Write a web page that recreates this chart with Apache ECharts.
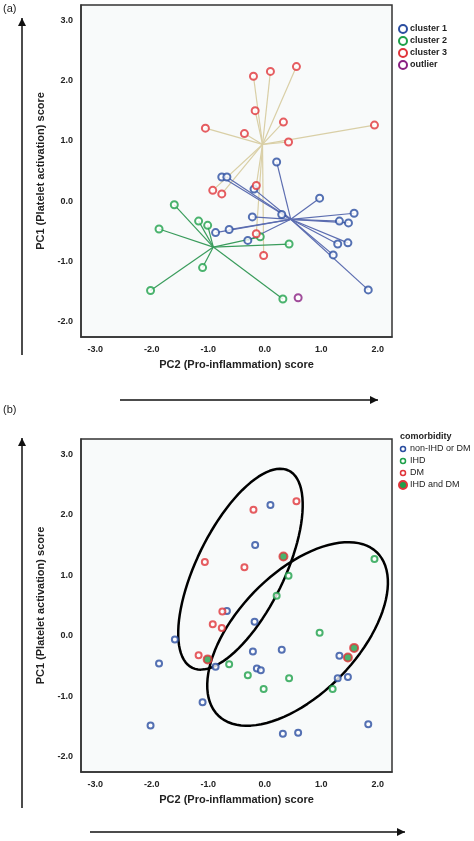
<!DOCTYPE html>
<html><head><meta charset="utf-8">
<script src="https://cdn.jsdelivr.net/npm/echarts@6/dist/echarts.min.js"></script>
<style>html,body{margin:0;background:#fff}#main{width:474px;height:841px}</style>
</head><body><div id="main"></div>
<script>
// (a) cluster points [PC2, PC1]
var cluster1 = [[0.21,0.65],[-0.76,0.40],[-0.67,0.40],[-0.19,0.20],[0.97,0.05],[0.30,-0.22],[-0.22,-0.26],[1.58,-0.20],[1.32,-0.33],[1.48,-0.36],[-0.63,-0.47],[-0.87,-0.52],[-0.30,-0.65],[1.29,-0.71],[1.47,-0.69],[1.21,-0.89],[1.83,-1.47]];
var cluster2 = [[-1.60,-0.06],[-1.17,-0.33],[-1.01,-0.40],[-1.87,-0.46],[-0.08,-0.59],[0.43,-0.71],[-1.10,-1.10],[-2.02,-1.48],[0.32,-1.62]];
var cluster3 = [[-0.20,2.07],[0.10,2.15],[0.56,2.23],[-0.17,1.50],[0.33,1.31],[-1.05,1.21],[-0.36,1.12],[0.42,0.98],[1.94,1.26],[-0.15,0.26],[-0.92,0.18],[-0.76,0.12],[-0.15,-0.54],[-0.02,-0.90]];
var outlier = [[0.59,-1.60]];
var centroid1 = [0.46,-0.30], centroid2 = [-0.91,-0.76], centroid3 = [-0.04,0.94];

// (b) comorbidity points
var nonIhdDm = [[0.10,2.16],[-0.17,1.50],[-0.67,0.41],[-0.18,0.23],[-1.59,-0.06],[-1.87,-0.46],[-0.21,-0.26],[0.30,-0.23],[-0.87,-0.51],[-0.14,-0.54],[-0.07,-0.57],[1.32,-0.33],[1.29,-0.70],[1.47,-0.68],[-1.10,-1.10],[-2.02,-1.48],[0.32,-1.62],[0.59,-1.60],[1.83,-1.46]];
var ihd = [[0.42,0.99],[0.21,0.66],[1.94,1.27],[0.97,0.05],[-0.63,-0.47],[-0.30,-0.65],[0.43,-0.70],[-0.02,-0.88],[1.20,-0.88]];
var dm = [[-0.20,2.08],[0.56,2.22],[-1.06,1.22],[-0.36,1.13],[-0.75,0.40],[-0.92,0.19],[-0.76,0.13],[-1.17,-0.32]];
var ihdAndDm = [[0.33,1.31],[1.58,-0.20],[1.47,-0.36],[-1.01,-0.39]];
// ellipses: centre, semi-axis A, semi-axis B (data units)
var ellipses = [
  {c:[-0.43,1.10], a:[0.85,1.63], b:[0.70,-0.31]},
  {c:[0.58,0.03], a:[1.40,1.35], b:[0.77,-0.69]}
];

var blue='#2b4ea0', green='#1ea04a', red='#e0353a', purple='#8a2082';
function spokes(c, pts){ return pts.map(function(p){return {coords:[c,p]};}); }
function ellipsePts(e){
  var out=[]; for(var i=0;i<=96;i++){var t=i/96*2*Math.PI;
    out.push([e.c[0]+Math.cos(t)*e.a[0]+Math.sin(t)*e.b[0], e.c[1]+Math.cos(t)*e.a[1]+Math.sin(t)*e.b[1]]);}
  return out;
}
function ring(name,data,col,gi,size){
  return {name:name,type:'scatter',xAxisIndex:gi,yAxisIndex:gi,data:data,symbolSize:size||7,z:5,
    itemStyle:{color:'#fff',borderColor:col,borderWidth:2}};
}
// labels only on whole numbers (interval is 0.25 so min stays on the grid)
function intLabel(v){ return Math.abs(v-Math.round(v))<1e-6 ? v.toFixed(1) : ''; }
var axisTxt={color:'#222',fontSize:9,fontWeight:'bold',fontFamily:'Liberation Sans',formatter:intLabel};
function xAx(gi){return {gridIndex:gi,type:'value',min:-3.25,max:2.25,interval:0.25,
  axisLabel:axisTxt,axisTick:{show:false},
  splitLine:{show:false},axisLine:{onZero:false,lineStyle:{color:'#333',width:1.5}},
  name:'PC2 (Pro-inflammation) score',nameLocation:'middle',nameGap:22,
  nameTextStyle:{fontSize:11,fontWeight:'bold',color:'#222',fontFamily:'Liberation Sans'}};}
function yAx(gi){return {gridIndex:gi,type:'value',min:-2.25,max:3.25,interval:0.25,
  axisLabel:axisTxt,axisTick:{show:false},
  splitLine:{show:false},axisLine:{onZero:false,lineStyle:{color:'#333',width:1.5}},
  name:'PC1 (Platelet activation) score',nameLocation:'middle',nameGap:30,
  nameTextStyle:{fontSize:11,fontWeight:'bold',color:'#222',fontFamily:'Liberation Sans'}};}

var chart=echarts.init(document.getElementById('main'));
var t=function(x,y,s,o){return {type:'text',left:x,top:y,style:Object.assign({text:s,fontSize:10,fill:'#222',fontFamily:'Liberation Sans'},o||{})};};
var arrow=function(x1,y1,x2,y2){
  var g=[{type:'line',shape:{x1:x1,y1:y1,x2:x2,y2:y2},style:{stroke:'#111',lineWidth:1.5}}];
  var ang=Math.atan2(y2-y1,x2-x1),L=8,W=4;
  g.push({type:'polygon',shape:{points:[[x2,y2],[x2-L*Math.cos(ang)+W*Math.sin(ang),y2-L*Math.sin(ang)-W*Math.cos(ang)],[x2-L*Math.cos(ang)-W*Math.sin(ang),y2-L*Math.sin(ang)+W*Math.cos(ang)]]},style:{fill:'#111'}});
  return g;
};
var legA=[['cluster 1',blue],['cluster 2',green],['cluster 3',red],['outlier',purple]];
var legB=[['non-IHD or DM',blue,0],['IHD',green,0],['DM',red,0],['IHD and DM',red,1]];
var graphics=[t(3,3,'(a)',{fontSize:11}),t(3,404,'(b)',{fontSize:11}),t(400,432,'comorbidity',{fontWeight:'bold',fontSize:9})]
  .concat(arrow(22,355,22,18),arrow(120,400,378,400),arrow(22,808,22,438),arrow(90,832,405,832));
legA.forEach(function(l,i){graphics.push({type:'circle',shape:{cx:403,cy:29+i*12,r:4},style:{fill:'#fff',stroke:l[1],lineWidth:2}});
  graphics.push(t(410,24+i*12,l[0],{fontSize:9,fontWeight:'bold'}));});
legB.forEach(function(l,i){graphics.push({type:'circle',shape:{cx:403,cy:449+i*12,r:l[2]?4:2.5},style:{fill:l[2]?green:'#fff',stroke:l[1],lineWidth:l[2]?2:1.5}});
  graphics.push(t(410,444+i*12,l[0],{fontSize:9}));});

chart.setOption({
  animation:false,
  grid:[{left:81,top:5,width:311,height:332,show:true,backgroundColor:'#f8fafa',borderColor:'#333',borderWidth:1.5},
        {left:81,top:439,width:311,height:333,show:true,backgroundColor:'#f8fafa',borderColor:'#333',borderWidth:1.5}],
  xAxis:[xAx(0),xAx(1)], yAxis:[yAx(0),yAx(1)],
  graphic:graphics,
  series:[
    {type:'lines',coordinateSystem:'cartesian2d',xAxisIndex:0,yAxisIndex:0,data:spokes(centroid3,cluster3),lineStyle:{color:'#d9cfa6',width:1.2,opacity:1}},
    {type:'lines',coordinateSystem:'cartesian2d',xAxisIndex:0,yAxisIndex:0,data:spokes(centroid1,cluster1),lineStyle:{color:'#5c6db0',width:1.2,opacity:1}},
    {type:'lines',coordinateSystem:'cartesian2d',xAxisIndex:0,yAxisIndex:0,data:spokes(centroid2,cluster2),lineStyle:{color:'#3a9c5c',width:1.2,opacity:1}},
    ring('cluster 1',cluster1,blue,0),ring('cluster 2',cluster2,green,0),ring('cluster 3',cluster3,red,0),ring('outlier',outlier,purple,0),
    {type:'line',xAxisIndex:1,yAxisIndex:1,data:ellipsePts(ellipses[0]),showSymbol:false,smooth:false,lineStyle:{color:'#000',width:2.5},z:3},
    {type:'line',xAxisIndex:1,yAxisIndex:1,data:ellipsePts(ellipses[1]),showSymbol:false,smooth:false,lineStyle:{color:'#000',width:2.5},z:3},
    ring('non-IHD or DM',nonIhdDm,blue,1,6),ring('IHD',ihd,green,1,6),ring('DM',dm,red,1,6),
    {type:'scatter',xAxisIndex:1,yAxisIndex:1,data:ihdAndDm,symbolSize:8,z:6,itemStyle:{color:green,borderColor:red,borderWidth:2}}
  ]
});
</script></body></html>
